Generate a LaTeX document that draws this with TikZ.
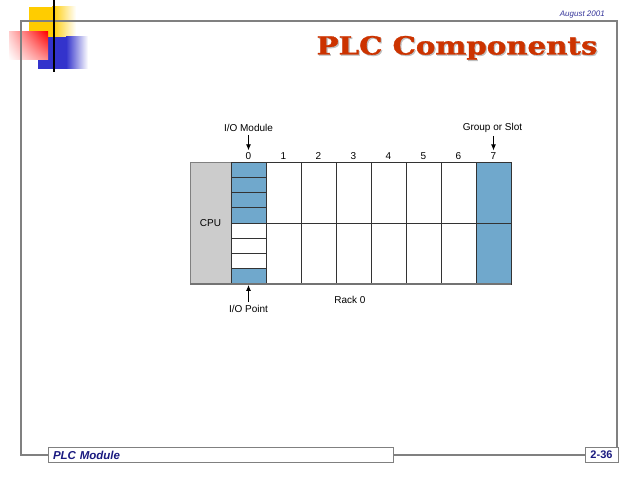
\documentclass[tikz,border=0pt]{standalone}
\usepackage{fontspec}
\setmainfont{Liberation Sans}
\setsansfont{Liberation Sans}
\newfontfamily\titlefont{DejaVu Serif}[BoldFeatures={FakeBold=1.2}]
\usetikzlibrary{arrows.meta,positioning,shadows,shadings}
\definecolor{slotblue}{RGB}{112,168,204}
\definecolor{cpugray}{RGB}{204,204,204}
\definecolor{titlered}{RGB}{204,51,0}
\definecolor{datecol}{RGB}{51,51,153}
\definecolor{footblue}{RGB}{26,26,128}
\definecolor{decoyellow}{RGB}{255,204,0}
\definecolor{decoblue}{RGB}{51,51,204}
\tikzset{
  cell/.style={draw=black!80, line width=0.8pt, minimum width=35pt, minimum height=61pt, inner sep=0pt, outer sep=0pt},
  iocell/.style={cell, minimum height=15.25pt},
  lit/.style={fill=slotblue},
  lbl/.style={font=\fontsize{10}{12}\selectfont, inner sep=1pt},
  arr/.style={-{Latex[length=6pt,width=5pt]}, line width=0.8pt, shorten <=2pt, shorten >=1pt},
  frame/.style={draw=black!50, line width=1.3pt},
  footbox/.style={draw=black!50, line width=0.8pt, fill=white, minimum height=15pt, inner sep=0pt, text=footblue,
    font=\bfseries\itshape\fontsize{11.5}{13}\selectfont,
    drop shadow={shadow xshift=1pt, shadow yshift=-1pt, fill=black!55, opacity=1}},
  headline/.style={font=\titlefont\bfseries\fontsize{25}{28}\selectfont, anchor=base, inner sep=0pt}}

\begin{document}
\begin{tikzpicture}[x=1pt, y=-1pt]
  \useasboundingbox (0,0) rectangle (638,478);
  % corner squares
  \fill[decoyellow] (29,7) rectangle (52,40);
  \shade[left color=decoyellow, right color=white] (52,7) rectangle (76,40);
  \fill[decoblue] (38,37) rectangle (66,69);
  \shade[left color=decoblue, right color=white] (66,37) rectangle (88,69);
  \shade[upper right=red, upper left=red!20, lower right=red!45, lower left=white] (9,32) rectangle (48,60);
  % footer boxes
  \node[footbox, minimum width=345pt, text width=335pt, align=left] (foot) at (220.5,455) {PLC Module};
  \node[footbox, minimum width=33pt, font=\bfseries\fontsize{11}{13}\selectfont] (page) at (601.5,455) {2-36};
  % slide frame
  \draw[frame] (foot.west) -- (21,455) -- (21,21) -- (617,21) -- (617,447.5);
  \draw[frame] (foot.east) -- (page.west);
  \draw[line width=2pt] (54,0) -- (54,72);
  \node[font=\itshape\fontsize{8}{9}\selectfont, text=datecol, anchor=east, inner sep=0pt] (date) at (605,15) {August 2001};
  \node[headline, text=black!25] (shadow) at (458.2,55.7) {\scalebox{1.17}[1]{PLC Components}};
  \node[headline, text=titlered] (title) at (457,54.5) {\scalebox{1.17}[1]{PLC Components}};

  % rack
  \node[cell, fill=cpugray, draw=black!50, minimum width=41pt, minimum height=122pt, font=\fontsize{10}{12}\selectfont] (cpu) at (210.5,223) {CPU};
  \foreach \r in {1,2,3,4,8}
    \node[iocell, lit] (p\r) at (248.5,{162+15.25*(\r-0.5)}) {};
  \foreach \r in {5,6,7}
    \node[iocell] (p\r) at (248.5,{162+15.25*(\r-0.5)}) {};
  \foreach \i in {1,...,6} {
    \node[cell] (t\i) at ({248.5+35*\i},192.5) {};
    \node[cell] (b\i) at ({248.5+35*\i},253.5) {};
  }
  \node[cell, lit] (t7) at (493.5,192.5) {};
  \node[cell, lit] (b7) at (493.5,253.5) {};
  \draw[draw=black!55, line width=1.2pt] (cpu.south west) -- (b7.south east);
  \foreach \i in {0,...,7}
    \node[lbl] (n\i) at ({248.5+35*\i},156) {\i};

  \node[lbl] (iomod) at (248.5,128) {I/O Module};
  \node[lbl] (slot) at (492.5,128) {Group or Slot};
  \node[lbl] (iopt) at (248.5,309) {I/O Point};
  \node[lbl] (rack) at (350,300) {Rack 0};
  \draw[arr] (iomod.south -| n0) -- (n0);
  \draw[arr] (slot.south -| n7) -- (n7);
  \draw[arr] (iopt) -- (p8);
\end{tikzpicture}
\end{document}
